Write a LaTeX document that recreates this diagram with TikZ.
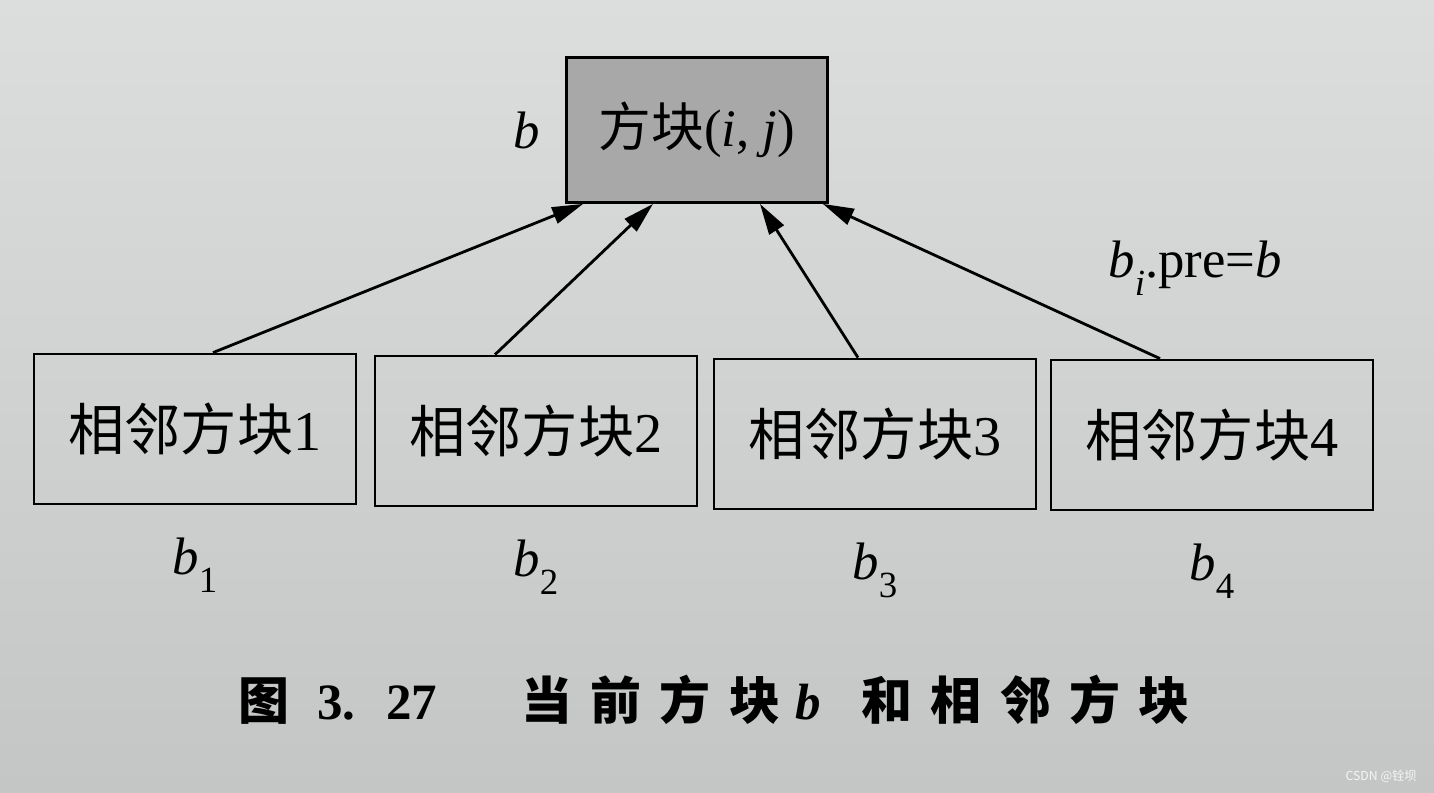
\documentclass[tikz,border=0pt]{standalone}
\usepackage{fontspec}
\setmainfont{Liberation Serif}
\newfontfamily\cjk{Noto Sans CJK SC}
\usetikzlibrary{arrows.meta}
\definecolor{paper}{RGB}{220,222,222}
\definecolor{paperdark}{RGB}{196,198,198}
\definecolor{boxgray}{RGB}{168,168,168}
\newcommand{\bsub}[1]{\textit{b}\raisebox{-0.35em}{\fontsize{21}{24}\selectfont #1}}
\newcommand{\gapc}{\hspace{0.36em}}
\begin{document}
\begin{tikzpicture}[x=0.02cm, y=-0.02cm, line width=1.6pt, font=\fontsize{30}{34}\selectfont,
		blk/.style = {draw, minimum width=6.44cm, minimum height=3cm, inner sep=0pt, font=\cjk\fontsize{32}{36}\selectfont},
		cur/.style = {blk, fill=boxgray, minimum width=5.22cm, minimum height=2.9cm, font=\cjk\fontsize{30}{36}\selectfont},
		arr/.style = {-{Triangle[length=0.62cm, width=0.34cm]}}]
		\fill[top color=paper, bottom color=paperdark] (0,0) rectangle (1434,792);
		
		\node[cur] (0) at (697,130) [label={[label distance=0.36cm]west:\textit{b}}] {方块{\rmfamily(\textit{i}, \textit{j})}};
		
		\node[blk] (1) at (195,429) [label={[label distance=0.5cm]south:\bsub{1}}] {相邻方块{\rmfamily 1}};
		\node[blk] (2) at (536,431) [label={[label distance=0.5cm]south:\bsub{2}}] {相邻方块{\rmfamily 2}};
		\node[blk] (3) at (875,434) [label={[label distance=0.5cm]south:\bsub{3}}] {相邻方块{\rmfamily 3}};
		\node[blk] (4) at (1212,435) [label={[label distance=0.5cm]south:\bsub{4}}] {相邻方块{\rmfamily 4}};
		
		\node (pre) at (1195,268) {\bsub{\textit{i}}.pre=\textit{b}};
		
		\draw[arr] ([xshift=0.36cm]1.north) -- ([xshift=0.36cm]0.south west);
		\draw[arr] ([xshift=-0.82cm]2.north) -- ([xshift=-0.88cm]0.south);
		\draw[arr] ([xshift=-0.34cm]3.north) -- ([xshift=1.26cm]0.south);
		\draw[arr] ([xshift=-1.04cm]4.north) -- ([xshift=-0.12cm]0.south east);
		
		\node[anchor=west, inner sep=0pt, font=\cjk\bfseries\fontsize{29}{34}\selectfont] (cap) at (237,700)
		{图\hspace{0.55em}{\rmfamily\bfseries 3.\hspace{0.6em}27}\hspace{1.65em}当\gapc 前\gapc 方\gapc 块\hspace{0.3em}{\rmfamily\bfseries\itshape b}\hspace{0.8em}和\gapc 相\gapc 邻\gapc 方\gapc 块};
		
		\node[anchor=east, text=white!92!gray, font=\cjk\fontsize{7}{8}\selectfont] (mark) at (1424,776) {CSDN @铨坝};
\end{tikzpicture}
\end{document}
